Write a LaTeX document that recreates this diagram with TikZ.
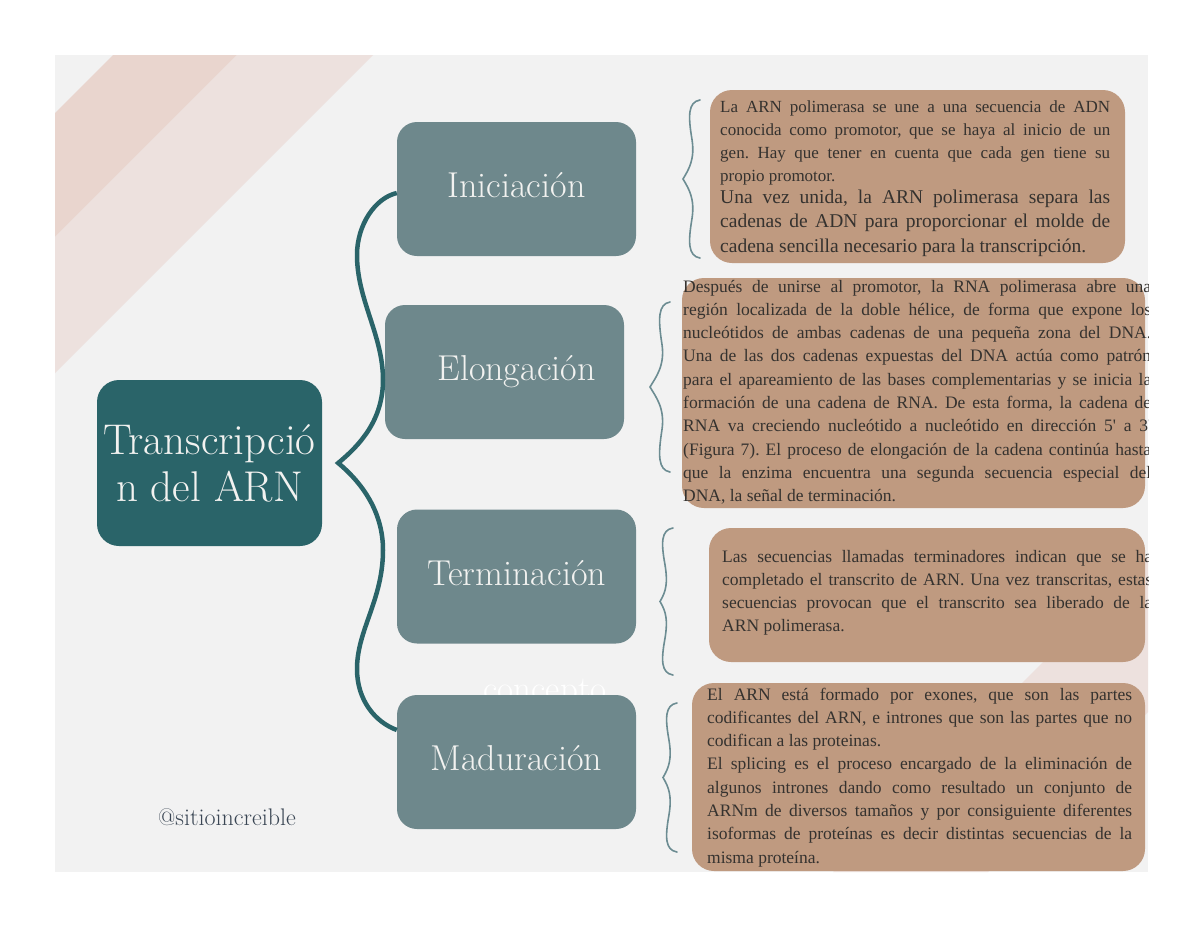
\documentclass[tikz,border=0pt]{standalone}
\usepackage{fontspec}
\usepackage{tikz}
\usepackage{xcolor}

\newfontfamily\cuerpo{Liberation Serif}
\frenchspacing

\definecolor{fondo}{HTML}{F2F2F2}
\definecolor{rosa}{HTML}{E9D5CE}
\definecolor{rosaclaro}{HTML}{EDE1DE}
\definecolor{verde}{HTML}{2A6469}
\definecolor{gris}{HTML}{6E888C}
\definecolor{cafe}{HTML}{BF9A80}
\definecolor{tinta}{HTML}{35322F}
\definecolor{hueso}{HTML}{F2F2F0}
\definecolor{firmatxt}{HTML}{3A4654}
\definecolor{llavecol}{HTML}{6C8C92}

\tikzset{
	raiz/.style={fill=verde, rounded corners=22pt, minimum width=225pt, minimum height=166pt, inner sep=0pt, text=hueso, align=center, font=\fontsize{43}{47}\selectfont},
	etapa/.style={fill=gris, rounded corners=20pt, minimum width=239pt, minimum height=134pt, inner sep=0pt, text=hueso, text height=24pt, text depth=7pt, font=\fontsize{36}{40}\selectfont},
	nota/.style={fill=cafe, rounded corners=22pt, inner sep=0pt},
	texto/.style={anchor=base west, inner sep=0pt, align=justify, text=tinta, font=\cuerpo\frenchspacing\fontsize{17.5}{23.3}\selectfont},
	llave/.style={draw=llavecol, line width=1.6pt, line cap=round},
	rama/.style={draw=verde, line width=4.5pt}
}

\newcommand{\llave}[4]{%
	\pgfmathsetmacro{\llm}{(#2+#3)/2}
	\pgfmathsetmacro{\llh}{(#3-#2)/2}
	\draw[llave] (#1,#2) .. controls ({#1-12},{#2+2}) and ({#1-12},{#2+0.2*\llh}) .. ({#1-8},{#2+0.5*\llh})
		.. controls ({#1-5},{#2+0.75*\llh}) and ({#4+6},{\llm-10}) .. (#4,\llm)
		.. controls ({#4+6},{\llm+10}) and ({#1-5},{#3-0.75*\llh}) .. ({#1-8},{#3-0.5*\llh})
		.. controls ({#1-12},{#3-0.2*\llh}) and ({#1-12},{#3-2}) .. (#1,#3);
}

\begin{document}
\begin{tikzpicture}[x=1pt,y=-1pt]
	\useasboundingbox (0,0) rectangle (1200,927);
	\fill[white] (0,0) rectangle (1200,927);
	\begin{scope}
	\clip (55,55) rectangle (1148,872);
	\fill[fondo] (55,55) rectangle (1148,872);
	\fill[rosa] (113,55) -- (237,55) -- (55,237) -- (55,113) -- cycle;
	\fill[rosaclaro] (237,55) -- (373,55) -- (55,373) -- (55,237) -- cycle;
	\fill[rosaclaro] (1148,557) -- (1148,712) -- (988,872) -- (833,872) -- cycle;
	
	\node [anchor=base, text=white, font=\fontsize{35}{40}\selectfont] (concepto) at (545,700) {concepto};
	
	\node [raiz] (tra) at (209.5,463) {Transcripció\\n del ARN};
	\node [etapa] (ini) at (516.5,189) {Iniciación};
	\node [etapa] (elo) at (504.5,372) {\hspace*{24pt}Elongación};
	\node [etapa] (ter) at (516.5,576.5) {Terminación};
	\node [etapa] (mad) at (516.5,762) {Maduración};
	
	\coordinate (punta) at ([xshift=16pt]tra.east);
	\draw [rama] ([yshift=-4pt]ini.west) .. controls (375,198) and (357,225) .. (357,255)
		.. controls (357,300) and (383,335) .. (383,380)
		.. controls (383,420) and (360,445) .. (punta)
		.. controls (360,481) and (383,510) .. (383,550)
		.. controls (383,600) and (357,630) .. (357,669)
		.. controls (357,700) and (375,722) .. ([yshift=32pt]mad.west);
	
	\node [anchor=base, text=firmatxt, font=\fontsize{24}{28}\selectfont] (sitio) at (227,825) {@sitioincreible};
	
	\node [nota, minimum width=415pt, minimum height=173pt] (n1) at (917.5,176.5) {};
	\node [nota, minimum width=463pt, minimum height=230pt] (n2) at (913.5,393) {};
	\node [nota, minimum width=436pt, minimum height=134pt] (n3) at (927,595) {};
	\node [nota, minimum width=453pt, minimum height=188pt] (n4) at (918.5,777) {};
	
	\llave{700}{100}{258}{683}
	\llave{670}{302}{472}{650}
	\llave{673}{528}{675}{660}
	\llave{677}{703}{852}{663}
	
	\node [texto, text width=390pt, font=\cuerpo\frenchspacing\fontsize{17}{23.3}\selectfont] (t1a) at (720,112) {La ARN polimerasa se une a una secuencia de ADN\linebreak conocida como promotor, que se haya al inicio de un\linebreak gen. Hay que tener en cuenta que cada gen tiene su\linebreak propio promotor.};
	\node [texto, text width=390pt, font=\cuerpo\frenchspacing\fontsize{19.5}{24.5}\selectfont] (t1b) at (720,203) {Una vez unida, la ARN polimerasa separa las\linebreak cadenas de ADN para proporcionar el molde de\linebreak cadena sencilla necesario para la transcripción.};
	\node [texto, text width=468pt] (t2) at (683,292) {Después de unirse al promotor, la RNA polimerasa abre una\linebreak región localizada de la doble hélice, de forma que expone los\linebreak nucleótidos de ambas cadenas de una pequeña zona del DNA.\linebreak Una de las dos cadenas expuestas del DNA actúa como patrón\linebreak para el apareamiento de las bases complementarias y se inicia la\linebreak formación de una cadena de RNA. De esta forma, la cadena de\linebreak RNA va creciendo nucleótido a nucleótido en dirección 5' a 3'\linebreak (Figura 7). El proceso de elongación de la cadena continúa hasta\linebreak que la enzima encuentra una segunda secuencia especial del\linebreak DNA, la señal de terminación.};
	\node [texto, text width=430pt] (t3) at (722,562) {Las secuencias llamadas terminadores indican que se ha\linebreak completado el transcrito de ARN. Una vez transcritas, estas\linebreak secuencias provocan que el transcrito sea liberado de la\linebreak ARN polimerasa.};
	\node [texto, text width=425pt] (t4) at (707,700) {El ARN está formado por exones, que son las partes\linebreak codificantes del ARN, e intrones que son las partes que no\linebreak codifican a las proteinas.\\El splicing es el proceso encargado de la eliminación de\linebreak algunos intrones dando como resultado un conjunto de\linebreak ARNm de diversos tamaños y por consiguiente diferentes\linebreak isoformas de proteínas es decir distintas secuencias de la\linebreak misma proteína.};
	\end{scope}
\end{tikzpicture}
\end{document}
